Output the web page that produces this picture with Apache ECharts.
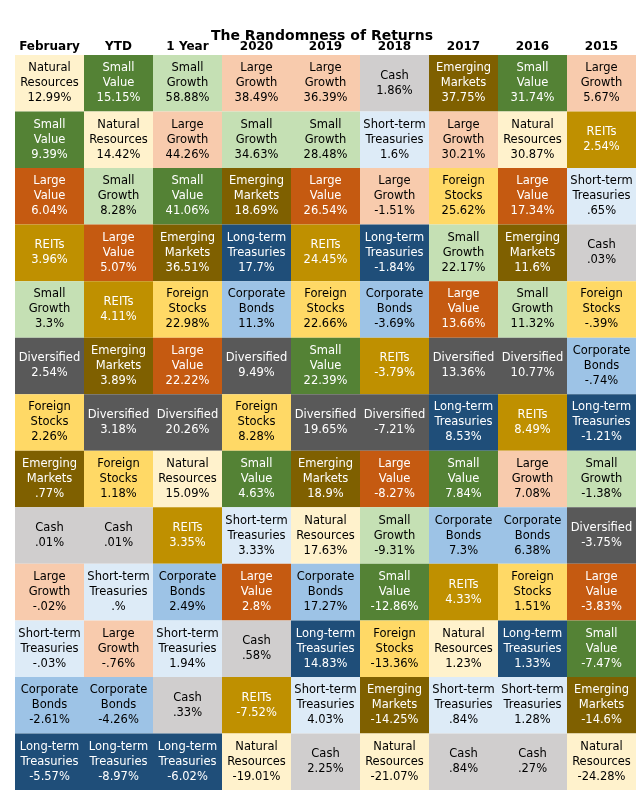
<!DOCTYPE html>
<html><head><meta charset="utf-8">
<script src="https://cdn.jsdelivr.net/npm/echarts@6/dist/echarts.min.js"></script>
<style>html,body{margin:0;padding:0;background:#fff}#c{width:644px;height:796px}</style>
</head><body><div id="c"></div>
<script>
const periods = ['February','YTD','1 Year','2020','2019','2018','2017','2016','2015'];
const febNames = ['Natural Resources','Small Value','Large Value','REITs','Small Growth','Diversified','Foreign Stocks','Emerging Markets','Cash','Large Growth','Short-term Treasuries','Corporate Bonds','Long-term Treasuries'];
const febVals = ['12.99','9.39','6.04','3.96','3.3','2.54','2.26','.77','.01','-.02','-.03','-2.61','-5.57'];
const ytdNames = ['Small Value','Natural Resources','Small Growth','Large Value','REITs','Emerging Markets','Diversified','Foreign Stocks','Cash','Short-term Treasuries','Large Growth','Corporate Bonds','Long-term Treasuries'];
const ytdVals = ['15.15','14.42','8.28','5.07','4.11','3.89','3.18','1.18','.01','.','-.76','-4.26','-8.97'];
const y1Names = ['Small Growth','Large Growth','Small Value','Emerging Markets','Foreign Stocks','Large Value','Diversified','Natural Resources','REITs','Corporate Bonds','Short-term Treasuries','Cash','Long-term Treasuries'];
const y1Vals = ['58.88','44.26','41.06','36.51','22.98','22.22','20.26','15.09','3.35','2.49','1.94','.33','-6.02'];
const y2020Names = ['Large Growth','Small Growth','Emerging Markets','Long-term Treasuries','Corporate Bonds','Diversified','Foreign Stocks','Small Value','Short-term Treasuries','Large Value','Cash','REITs','Natural Resources'];
const y2020Vals = ['38.49','34.63','18.69','17.7','11.3','9.49','8.28','4.63','3.33','2.8','.58','-7.52','-19.01'];
const y2019Names = ['Large Growth','Small Growth','Large Value','REITs','Foreign Stocks','Small Value','Diversified','Emerging Markets','Natural Resources','Corporate Bonds','Long-term Treasuries','Short-term Treasuries','Cash'];
const y2019Vals = ['36.39','28.48','26.54','24.45','22.66','22.39','19.65','18.9','17.63','17.27','14.83','4.03','2.25'];
const y2018Names = ['Cash','Short-term Treasuries','Large Growth','Long-term Treasuries','Corporate Bonds','REITs','Diversified','Large Value','Small Growth','Small Value','Foreign Stocks','Emerging Markets','Natural Resources'];
const y2018Vals = ['1.86','1.6','-1.51','-1.84','-3.69','-3.79','-7.21','-8.27','-9.31','-12.86','-13.36','-14.25','-21.07'];
const y2017Names = ['Emerging Markets','Large Growth','Foreign Stocks','Small Growth','Large Value','Diversified','Long-term Treasuries','Small Value','Corporate Bonds','REITs','Natural Resources','Short-term Treasuries','Cash'];
const y2017Vals = ['37.75','30.21','25.62','22.17','13.66','13.36','8.53','7.84','7.3','4.33','1.23','.84','.84'];
const y2016Names = ['Small Value','Natural Resources','Large Value','Emerging Markets','Small Growth','Diversified','REITs','Large Growth','Corporate Bonds','Foreign Stocks','Long-term Treasuries','Short-term Treasuries','Cash'];
const y2016Vals = ['31.74','30.87','17.34','11.6','11.32','10.77','8.49','7.08','6.38','1.51','1.33','1.28','.27'];
const y2015Names = ['Large Growth','REITs','Short-term Treasuries','Cash','Foreign Stocks','Corporate Bonds','Long-term Treasuries','Small Growth','Diversified','Large Value','Small Value','Emerging Markets','Natural Resources'];
const y2015Vals = ['5.67','2.54','.65','.03','-.39','-.74','-1.21','-1.38','-3.75','-3.83','-7.47','-14.6','-24.28'];

const allNames = [febNames,ytdNames,y1Names,y2020Names,y2019Names,y2018Names,y2017Names,y2016Names,y2015Names];
const allVals = [febVals,ytdVals,y1Vals,y2020Vals,y2019Vals,y2018Vals,y2017Vals,y2016Vals,y2015Vals];

const colors = {
 'Natural Resources':['#fff2cc','#000'],
 'Small Value':['#548235','#fff'],
 'Small Growth':['#c5e0b4','#000'],
 'Large Growth':['#f8cbad','#000'],
 'Cash':['#d0cece','#000'],
 'Emerging Markets':['#7f6000','#fff'],
 'REITs':['#bf9000','#fff'],
 'Short-term Treasuries':['#ddebf7','#000'],
 'Large Value':['#c55a11','#fff'],
 'Foreign Stocks':['#ffd966','#000'],
 'Long-term Treasuries':['#1f4e79','#fff'],
 'Corporate Bonds':['#9dc3e6','#000'],
 'Diversified':['#595959','#fff']
};
const rows = febNames.map((_,i)=>i);
const data = [];
allNames.forEach((col,c)=>col.forEach((n,r)=>data.push([c,r,n,allVals[c][r]])));

const chart = echarts.init(document.getElementById('c'));
chart.setOption({
 animation:false,
 title:{text:'The Randomness of Returns',left:'center',top:24,textStyle:{fontFamily:'DejaVu Sans',fontSize:14,fontWeight:'bold',color:'#000'}},
 grid:{left:15,right:8,top:55,bottom:6},
 xAxis:{type:'category',position:'top',data:periods,axisLine:{show:false},axisTick:{show:false},
   axisLabel:{margin:2,fontFamily:'DejaVu Sans',fontSize:12,fontWeight:'bold',color:'#000',interval:0}},
 yAxis:{type:'category',inverse:true,data:rows,show:false},
 series:[{type:'custom',data:data,renderItem:function(params,api){
   const c=api.value(0), r=api.value(1);
   const d=data[params.dataIndex];
   const p=api.coord([c,r]); const s=api.size([1,1]);
   const col=colors[d[2]];
   const label=d[2].split(' ').join('\n')+'\n'+d[3]+'%';
   return {type:'group',children:[
     {type:'rect',shape:{x:p[0]-s[0]/2,y:p[1]-s[1]/2,width:s[0],height:s[1]},style:{fill:col[0]}},
     {type:'text',x:p[0],y:p[1],style:{text:label,fill:col[1],align:'center',verticalAlign:'middle',fontFamily:'DejaVu Sans',fontSize:11.5,lineHeight:15}}
   ]};
 }}]
});
</script></body></html>
